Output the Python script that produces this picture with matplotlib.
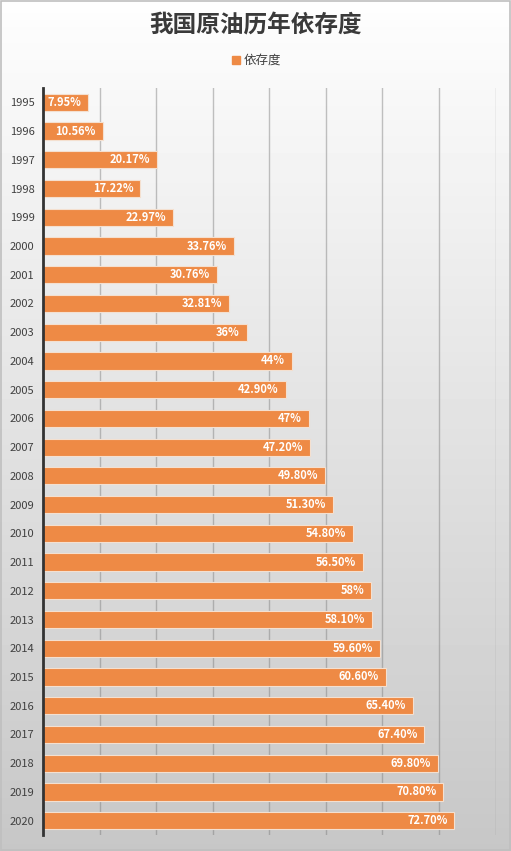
import numpy as np
import matplotlib.pyplot as plt
from matplotlib.patches import Rectangle

plt.rcParams['font.family'] = ['Noto Sans CJK SC', 'DejaVu Sans']

# data
years = [str(y) for y in range(1995, 2021)]
values = [7.95, 10.56, 20.17, 17.22, 22.97, 33.76, 30.76, 32.81, 36, 44,
          42.90, 47, 47.20, 49.80, 51.30, 54.80, 56.50, 58, 58.10, 59.60,
          60.60, 65.40, 67.40, 69.80, 70.80, 72.70]
labels = ['7.95%', '10.56%', '20.17%', '17.22%', '22.97%', '33.76%', '30.76%',
          '32.81%', '36%', '44%', '42.90%', '47%', '47.20%', '49.80%', '51.30%',
          '54.80%', '56.50%', '58%', '58.10%', '59.60%', '60.60%', '65.40%',
          '67.40%', '69.80%', '70.80%', '72.70%']

W, H = 511, 851
fig = plt.figure(figsize=(W / 100, H / 100), dpi=100)

# gradient background
bg = fig.add_axes([0, 0, 1, 1], zorder=0)
grad = np.linspace(0.995, 0.78, 256).reshape(-1, 1)
bg.imshow(grad, cmap='gray', vmin=0, vmax=1, aspect='auto', extent=[0, 1, 0, 1])
bg.add_patch(Rectangle((0.001, 0.001), 0.998, 0.998, fill=False,
                       edgecolor='#bfbfbf', lw=1.2, transform=bg.transAxes))
bg.set_axis_off()

left, right = 43 / W, 495.5 / W
bottom, top = 1 - 835 / H, 1 - 88 / H
ax = fig.add_axes([left, bottom, right - left, top - bottom], zorder=1)
ax.patch.set_alpha(0)

y = np.arange(len(years))
bars = ax.barh(y, values, height=0.6, color='#EE8A45', edgecolor='#f4e0d0',
               linewidth=0.8, zorder=3)
ax.set_ylim(len(years) - 0.5, -0.5)
ax.set_xlim(0, 80)
ax.set_xticks(np.arange(0, 81, 10))
ax.set_xticklabels([])
ax.tick_params(axis='x', length=0)
ax.grid(axis='x', color='#7a7a7a', alpha=0.45, lw=1, zorder=1)
ax.set_yticks(y)
ax.set_yticklabels(years, fontsize=8, color='#404040')
ax.tick_params(axis='y', length=0, pad=6)
for s in ['top', 'right', 'bottom']:
    ax.spines[s].set_visible(False)
ax.spines['left'].set_color('#333333')
ax.spines['left'].set_linewidth(2)
ax.spines['left'].set_zorder(4)

for yi, v, lab in zip(y, values, labels):
    ax.text(v - 1.2, yi, lab, ha='right', va='center', color='white',
            fontsize=8, fontweight='bold', zorder=5)

fig.text(0.5, 1 - 26 / H, '我国原油历年依存度', ha='center', va='center',
         fontsize=17, fontweight='bold', color='#3a3a3a')
fig.add_artist(Rectangle((232 / W, 1 - 64 / H), 8 / W, 8 / H,
                         color='#EE8A45', transform=fig.transFigure))
fig.text(244 / W, 1 - 60 / H, '依存度', ha='left', va='center',
         fontsize=9, color='#404040')

fig.savefig('out.png', dpi=100)
